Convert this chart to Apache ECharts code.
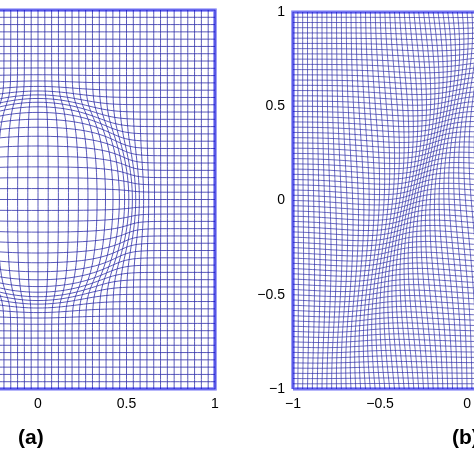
<!DOCTYPE html>
<html><head><meta charset="utf-8">
<script src="https://cdn.jsdelivr.net/npm/echarts@6/dist/echarts.min.js"></script>
<style>html,body{margin:0;padding:0;background:#fff}#c{width:474px;height:474px}</style>
</head><body><div id="c"></div>
<script>
// axis ranges visible in each (cropped) panel, and tick labels
const xRangeA = [-0.2147, 1];
const xRangeB = [-1, 0.04];
const xTicksA = [0, 0.5, 1];
const xTicksB = [-1, -0.5, 0];
const yTicks = [-1, -0.5, 0, 0.5, 1];
// mesh sizes (lines per direction) for panels a and b
const meshLines = [52, 72];
// panel a: radial bulge [amplitude, radius]
const bulgeA = [0.5, 0.47];
// panel b: compression band [x0, y0, dirX, dirY, strength, width]
const bandB = [-0.34, 0.0, 0.46, 1.0, 0.2, 0.36];
const panelLabels = ['(a)', '(b)'];

function mapA(x, y) {
    const r = Math.sqrt(x * x + y * y);
    const k = bulgeA[0] * Math.exp(-Math.pow(r / bulgeA[1], 4)) * (1 - x * x) * (1 - y * y);
    return [x * (1 + k), y * (1 + k)];
}
function mapB(x, y) {
    const [x0, y0, dx, dy, s, w] = bandB;
    const L = Math.hypot(dx, dy), nx = dy / L, ny = -dx / L;
    const d = (x - x0) * nx + (y - y0) * ny;
    const f = -s * d * Math.exp(-(d * d) / (w * w)) / w * (1 - x * x) * (1 - y * y);
    return [x + f * nx, y + f * ny];
}
function mesh(n, fn) {
    const out = [];
    for (let i = 0; i <= n; i++) {
        const a = -1 + 2 * i / n, v = [], h = [];
        for (let j = 0; j <= 80; j++) {
            const b = -1 + 2 * j / 80;
            v.push(fn(a, b));
            h.push(fn(b, a));
        }
        out.push({coords: v}, {coords: h});
    }
    return out;
}
const fmt = v => String(v).replace('-', '\u2212');
const label = (vals, show) => ({show: show, customValues: vals, color: '#000', fontSize: 14,
    fontFamily: 'Liberation Sans', formatter: fmt, margin: 8});
const bare = {axisLine: {show: false}, axisTick: {show: false}, splitLine: {show: false}};
const grids = [
    {left: 0, top: 10, width: 215, height: 379},
    {left: 293, top: 12, width: 181, height: 377}
];
const frame = [{coords: [[-1, -1], [1, -1], [1, 1], [-1, 1], [-1, -1]]}];
const chart = echarts.init(document.getElementById('c'));
chart.setOption({
    animation: false,
    grid: grids,
    xAxis: [
        Object.assign({type: 'value', gridIndex: 0, min: xRangeA[0], max: xRangeA[1], axisLabel: label(xTicksA, true)}, bare),
        Object.assign({type: 'value', gridIndex: 1, min: xRangeB[0], max: xRangeB[1], axisLabel: label(xTicksB, true)}, bare)
    ],
    yAxis: [
        Object.assign({type: 'value', gridIndex: 0, min: -1, max: 1, axisLabel: label(yTicks, false)}, bare),
        Object.assign({type: 'value', gridIndex: 1, min: -1, max: 1, axisLabel: label(yTicks, true)}, bare)
    ],
    graphic: [
        {type: 'text', left: 18, top: 428, style: {text: panelLabels[0], fontSize: 21, fontWeight: 'bold', fontFamily: 'Liberation Sans', fill: '#000'}},
        {type: 'text', left: 452, top: 428, style: {text: panelLabels[1], fontSize: 21, fontWeight: 'bold', fontFamily: 'Liberation Sans', fill: '#000'}}
    ],
    series: [
        {type: 'lines', coordinateSystem: 'cartesian2d', xAxisIndex: 0, yAxisIndex: 0, polyline: true,
            lineStyle: {color: '#2f2fa8', width: 0.8, opacity: 1}, data: mesh(meshLines[0], mapA)},
        {type: 'lines', coordinateSystem: 'cartesian2d', xAxisIndex: 1, yAxisIndex: 1, polyline: true,
            lineStyle: {color: '#2f2fa8', width: 0.7, opacity: 1}, data: mesh(meshLines[1], mapB)},
        {type: 'lines', coordinateSystem: 'cartesian2d', xAxisIndex: 0, yAxisIndex: 0, polyline: true,
            lineStyle: {color: '#0000ee', width: 3.5}, data: frame},
        {type: 'lines', coordinateSystem: 'cartesian2d', xAxisIndex: 1, yAxisIndex: 1, polyline: true,
            lineStyle: {color: '#0000ee', width: 3.5}, data: frame}
    ]
});
</script></body></html>
